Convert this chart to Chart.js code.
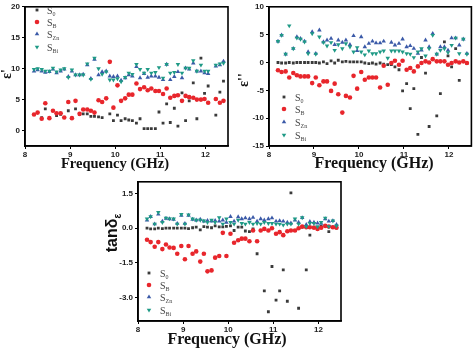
<!DOCTYPE html>
<html>
<head>
<meta charset="utf-8">
<script src="https://cdn.jsdelivr.net/npm/chart.js@4.4.1/dist/chart.umd.min.js"></script>
<style>
html,body{margin:0;padding:0;background:#fff;}
#wrap{position:relative;width:474px;height:351px;overflow:hidden;}
canvas{position:absolute;}
</style>
</head>
<body>
<div id="wrap">
<canvas id="c1" style="left:0px;top:0px;width:237px;height:175px"></canvas>
<canvas id="c2" style="left:237px;top:0px;width:237px;height:175px"></canvas>
<canvas id="c3" style="left:90px;top:175px;width:260px;height:176px"></canvas>
</div>
<script>
// ---------- DATA ----------
const freq = [8.2, 8.28, 8.37, 8.45, 8.54, 8.62, 8.7, 8.79, 8.87, 8.96, 9.04, 9.12, 9.21, 9.29, 9.38, 9.46, 9.54, 9.63, 9.71, 9.8, 9.88, 9.96, 10.05, 10.13, 10.22, 10.3, 10.38, 10.47, 10.55, 10.64, 10.72, 10.8, 10.89, 10.97, 11.06, 11.14, 11.22, 11.31, 11.39, 11.48, 11.56, 11.64, 11.73, 11.81, 11.9, 11.98, 12.06, 12.15, 12.23, 12.32, 12.4];
const seriesNames = ["0", "B", "Zn", "Bi"];
const xTicks = [8, 9, 10, 11, 12];

// ε' (real permittivity)
const epsRe_S0  = [null, null, 2.1, 3.5, null, null, 2.4, 2.6, null, 3.2, null, 3.5, 2.6, 2.7, 2.7, 2.3, 2.3, 2.2, 2.1, null, 2.7, 1.6, 2.5, 1.6, 1.9, 1.7, 1.6, 1.2, 1.9, 0.3, 0.3, 0.3, 0.3, 3.0, 1.2, 4.3, 1.3, 3.6, 0.7, 6.1, 1.6, 4.8, 7.7, 1.9, 11.7, 6.0, 7.2, null, 2.5, 6.2, 8.0];
const epsRe_SB  = [2.6, 2.9, 1.9, 4.4, 2.0, 3.2, 2.8, 2.8, 2.1, 4.6, 2.0, 4.8, 2.7, 3.4, 3.4, 3.2, 2.9, 4.9, 4.6, 5.2, 11.1, 3.7, 7.3, 4.8, 5.2, 5.8, 5.8, 7.6, 6.7, 7.0, 6.5, 6.8, 6.4, 6.4, 5.9, 6.8, 5.3, 5.6, 5.7, 4.8, 5.6, 5.4, 5.3, 5.0, 5.0, 5.1, 4.5, null, 5.1, 4.5, 4.8];
const epsRe_SZn = [9.6, 9.8, 9.6, 9.4, 9.5, 9.9, 9.3, 9.6, 9.9, 8.7, 9.6, 9.0, 9.0, 9.1, 10.6, 8.4, 11.5, 9.0, 9.5, 9.6, 8.8, 8.7, 8.8, 8.1, 8.5, 9.0, 8.8, 10.3, 8.5, 9.2, 8.6, 8.8, 8.8, 8.6, 8.2, 10.7, 8.2, 8.7, 9.5, 8.5, 10.1, 9.9, 10.9, 9.6, 9.6, 9.3, 9.2, null, 10.4, 10.6, 11.2];
const epsRe_SBi = [9.9, 10.0, 9.9, 9.6, 9.6, 10.1, 9.5, 9.8, 10.0, 8.6, 9.8, 9.0, 9.0, 9.0, 10.8, 8.3, 11.7, 10.0, 9.1, 9.5, 8.2, 8.2, 8.4, 7.9, 8.6, 9.3, 9.1, 10.7, 9.9, 9.3, 9.9, 9.3, 9.4, 10.2, 8.5, 10.7, 9.3, 9.4, 10.7, 9.3, 10.1, 10.1, 11.3, 9.6, 10.6, 9.6, 9.6, null, 10.6, 10.8, 10.9];
const epsReTicks = [0, 5, 10, 15, 20];

// ε'' (imaginary permittivity)
const epsIm_S0  = [0, -0.1, -0.1, 0, -0.1, 0, 0, 0, 0, 0, 0, -0.1, 0.1, -0.2, 0.3, -0.1, 0.4, 0.1, 0.2, 0.1, 0.1, 0.1, 0.1, -0.1, -0.2, -0.1, -0.3, -0.1, -0.3, -0.4, -0.4, -0.8, -1.3, -5.1, -3.8, -8.3, -4.7, -12.9, 0.9, -1.9, -11.5, null, -9.6, -5.6, 3.7, 1.2, -0.8, 2.5, -3.2, null, -0.2];
const epsIm_SB  = [-1.4, -1.7, -1.6, -2.7, -1.9, -2.3, -2.5, -2.5, -2.5, -3.7, -2.7, -4.1, -3.4, -3.4, -5.1, -3.8, -5.7, -9.0, -6.0, -6.3, -2.4, -4.7, -1.7, -3.1, -2.7, -2.7, -2.7, -4.5, -0.6, -4.0, -0.1, 0.3, -0.4, 0.3, -1.3, -1.0, -1.6, -0.7, -0.1, 0.2, 0, 0.6, 0.2, 0.2, 0.2, -0.4, -0.1, 0.2, 0, 0.2, -0.1];
const epsIm_SZn = [3.8, 4.9, 1.5, null, 2.5, 4.6, 4.3, 3.8, 1.9, 5.5, 1.6, 5.8, 3.7, 4.0, 4.3, 3.2, 4.0, 3.6, 4.0, 3.2, 4.8, 2.1, 4.6, 2.8, 3.4, 3.8, 3.5, 3.5, 3.8, null, 3.6, 3.1, 3.4, 4.2, 2.8, 3.0, 2.5, 1.6, 2.2, 4.0, 2.8, 5.2, 1.5, 2.8, 2.8, 2.2, 4.4, 4.4, 3.1, 4.2, 1.6];
const epsIm_SBi = [3.8, 4.9, 1.5, 6.6, 2.5, 4.4, 4.2, 3.7, 1.6, 5.2, 1.5, 4.6, 3.6, 3.0, 3.6, 2.2, 3.2, 2.5, 3.4, 2.8, 1.9, 2.7, 1.9, 1.4, 2.1, 1.6, 1.6, 1.9, 2.1, 0.8, 2.1, 2.1, 2.1, 1.9, 1.6, 1.5, 0.9, 1.9, 2.5, 1.2, 2.5, 4.9, 1.5, 2.2, 2.5, 1.8, 3.1, 4.4, 1.6, 4.2, 1.5];
const epsImTicks = [-15, -10, -5, 0, 5, 10];

// tan δε (dielectric loss tangent)
const tan_S0  = [0, -0.03, -0.03, 0, -0.02, 0, 0, 0, 0, 0, 0, -0.02, 0.02, 0.05, -0.07, 0.07, 0.05, 0.02, 0.1, 0.06, 0.06, 0.08, 0.1, -0.1, 0.05, 0.05, -0.12, -0.15, -0.03, -1.1, null, -2.7, -3.6, -1.65, -3.1, -2.7, -1.8, -3.15, 1.52, -0.1, -3.45, 0.05, -1.8, -0.3, 0.05, 0.0, 0.08, 0.1, -0.15, 0.05, 0.02];
const tan_SB  = [-0.5, -0.6, -0.8, -0.6, -0.9, -0.7, -0.83, -0.85, -1.1, -0.77, -1.34, -0.77, -1.1, -1.0, -1.44, -1.1, -1.86, -1.82, -1.27, -1.2, -0.2, -1.2, -0.24, -0.63, -0.52, -0.45, -0.45, -0.56, -0.1, -0.56, -0.1, -0.03, -0.1, 0, -0.24, -0.17, -0.3, -0.13, -0.1, -0.1, 0, 0.07, 0.04, 0.04, 0.02, -0.03, 0.02, 0.1, 0.07, 0.04, 0.02];
const tan_SZn = [0.35, 0.5, 0.18, 0.6, 0.3, 0.42, 0.4, 0.38, 0.2, 0.55, 0.2, 0.55, 0.38, 0.35, 0.38, 0.3, 0.33, 0.3, 0.33, 0.3, 0.35, 0.25, 0.5, 0.3, 0.49, 0.4, 0.44, 0.4, 0.46, 0.3, 0.4, 0.35, 0.4, 0.44, 0.3, 0.32, 0.3, 0.25, 0.22, 0.35, 0.25, 0.45, 0.15, 0.28, 0.25, 0.22, 0.2, 0.4, 0.3, 0.32, 0.15];
const tan_SBi = [0.4, 0.5, 0.18, 0.68, 0.25, 0.44, 0.41, 0.4, 0.18, 0.6, 0.18, 0.58, 0.4, 0.35, 0.35, 0.32, 0.25, 0.35, 0.25, 0.46, 0.18, 0.4, 0.25, 0.18, 0.35, 0.21, 0.18, 0.25, 0.18, 0.21, 0.18, 0.25, 0.21, 0.21, 0.18, 0.18, 0.14, 0.18, 0.18, 0.4, 0.18, 0.46, 0.07, 0.21, 0.21, 0.07, 0.25, 0.44, 0.07, 0.32, 0.1];
const tanTicks = [-3.0, -1.5, 0.0, 1.5];

// ---------- STYLE ----------
const styles = [
  {color: '#3a3a3a', pointStyle: 'rect', rotation: 0, radius: 2},
  {color: '#e8262c', pointStyle: 'circle', rotation: 0, radius: 2.3},
  {color: '#3b5aa8', pointStyle: 'triangle', rotation: 0, radius: 2.6},
  {color: '#1f9a86', pointStyle: 'triangle', rotation: 180, radius: 2.6}
];
const TICK_FONT = {family: '"Liberation Sans", Arial, sans-serif', size: 8, weight: 'bold'};

function pts(arr) {
  const out = [];
  freq.forEach((f, i) => { if (arr[i] !== null && arr[i] !== undefined) out.push({x: f, y: arr[i]}); });
  return out;
}

function makeChart(id, cfg) {
  const canvas = document.getElementById(id);
  const W = parseInt(canvas.style.width), H = parseInt(canvas.style.height);
  const datasets = cfg.series.map((arr, k) => ({
    label: 'S' + seriesNames[k],
    data: pts(arr),
    showLine: false,
    backgroundColor: styles[k].color,
    borderColor: styles[k].color,
    borderWidth: 0,
    pointStyle: styles[k].pointStyle,
    rotation: styles[k].rotation,
    pointRadius: styles[k].radius,
    pointHoverRadius: styles[k].radius
  }));
  datasets.reverse();

  const deco = {
    id: 'deco' + id,
    afterDatasetsDraw(chart) {
      const ctx = chart.ctx, a = chart.chartArea;
      ctx.save();
      ctx.strokeStyle = '#000';
      ctx.lineWidth = 1.6;
      ctx.strokeRect(a.left, a.top, a.right - a.left, a.bottom - a.top);
      ctx.restore();
    },
    afterDraw(chart) {
      const ctx = chart.ctx;
      ctx.save();
      // x title
      ctx.fillStyle = '#111';
      ctx.font = 'bold ' + cfg.xTitleSize + 'px "Liberation Serif", "Times New Roman", serif';
      ctx.textAlign = 'center';
      ctx.textBaseline = 'alphabetic';
      ctx.fillText('Frequency (GHz)', cfg.xTitle[0], cfg.xTitle[1]);
      // y title
      ctx.save();
      ctx.translate(cfg.yTitle[0], cfg.yTitle[1]);
      ctx.rotate(-Math.PI / 2);
      ctx.textBaseline = 'middle';
      if (cfg.yTitleSub) {
        const f1 = 'bold ' + cfg.yTitleSize + 'px "Liberation Sans", Arial, sans-serif';
        const f2 = 'bold ' + Math.round(cfg.yTitleSize * 0.62) + 'px "Liberation Sans", Arial, sans-serif';
        ctx.font = f1;
        const w1 = ctx.measureText(cfg.yTitleText).width;
        ctx.font = f2;
        const w2 = ctx.measureText(cfg.yTitleSub).width;
        const x0 = -(w1 + w2) / 2;
        ctx.textAlign = 'left';
        ctx.font = f1;
        ctx.fillText(cfg.yTitleText, x0, 0);
        ctx.font = f2;
        ctx.fillText(cfg.yTitleSub, x0 + w1, cfg.yTitleSize * 0.3);
      } else {
        ctx.font = 'bold ' + cfg.yTitleSize + 'px "Liberation Serif", "Times New Roman", serif';
        ctx.textAlign = 'center';
        ctx.fillText(cfg.yTitleText, 0, 0);
      }
      ctx.restore();
      // legend
      const L = cfg.legend;
      for (let k = 0; k < 4; k++) {
        const y = L.y[k];
        const st = styles[k];
        ctx.fillStyle = st.color;
        ctx.strokeStyle = st.color;
        ctx.lineWidth = 0;
        Chart.helpers.drawPoint(ctx, {pointStyle: st.pointStyle, rotation: st.rotation, radius: st.radius, borderWidth: 0}, L.mx, y);
        ctx.fillStyle = '#444';
        ctx.textAlign = 'left';
        ctx.textBaseline = 'alphabetic';
        ctx.font = '10px "Liberation Serif", "Times New Roman", serif';
        ctx.fillText('S', L.tx, y + 3.5);
        const ws = ctx.measureText('S').width;
        ctx.font = '6px "Liberation Serif", "Times New Roman", serif';
        ctx.fillText(seriesNames[k], L.tx + ws, y + 5.5);
      }
      ctx.restore();
    }
  };

  return new Chart(canvas, {
    type: 'scatter',
    data: {datasets},
    options: {
      responsive: false,
      animation: false,
      devicePixelRatio: 1,
      events: [],
      layout: {padding: {top: cfg.area.top, right: W - cfg.area.right, left: 0, bottom: 0}},
      plugins: {legend: {display: false}, tooltip: {enabled: false}},
      scales: {
        x: {
          type: 'linear', min: 8, max: 12.5,
          afterFit(s) { s.height = H - cfg.area.bottom; },
          afterBuildTicks(s) { s.ticks = xTicks.map(v => ({value: v})); },
          ticks: {font: TICK_FONT, color: '#222', padding: 1, maxRotation: 0, callback: v => String(v)},
          grid: {display: true, drawOnChartArea: false, drawTicks: true, tickLength: 3, color: '#000', tickWidth: 1},
          border: {display: true, color: '#000', width: 1.6}
        },
        y: {
          type: 'linear', min: cfg.yMin, max: cfg.yMax,
          afterFit(s) { s.width = cfg.area.left; },
          afterBuildTicks(s) { s.ticks = cfg.yTicks.map(v => ({value: v})); },
          ticks: {font: TICK_FONT, color: '#222', padding: 2, callback: cfg.yFmt},
          grid: {display: true, drawOnChartArea: false, drawTicks: true, tickLength: 3, color: '#000', tickWidth: 1},
          border: {display: true, color: '#000', width: 1.6}
        }
      }
    },
    plugins: [deco]
  });
}

makeChart('c1', {
  series: [epsRe_S0, epsRe_SB, epsRe_SZn, epsRe_SBi],
  yMin: -2.5, yMax: 20, yTicks: epsReTicks, yFmt: v => String(v),
  area: {left: 25, top: 5, right: 228, bottom: 146},
  xTitle: [115, 168], xTitleSize: 14.5,
  yTitle: [7, 74], yTitleText: "\u03B5'", yTitleSize: 14,
  legend: {mx: 37, tx: 47, y: [10, 22, 34, 47]}
});
makeChart('c2', {
  series: [epsIm_S0, epsIm_SB, epsIm_SZn, epsIm_SBi],
  yMin: -15, yMax: 10, yTicks: epsImTicks, yFmt: v => String(v),
  area: {left: 32, top: 5, right: 235, bottom: 146},
  xTitle: [137, 168], xTitleSize: 16,
  yTitle: [7, 80], yTitleText: "\u03B5''", yTitleSize: 14,
  legend: {mx: 47, tx: 58, y: [97, 109, 122, 135]}
});
makeChart('c3', {
  series: [tan_S0, tan_SB, tan_SZn, tan_SBi],
  yMin: -4, yMax: 2, yTicks: tanTicks, yFmt: v => v.toFixed(1),
  area: {left: 48, top: 4, right: 251, bottom: 146},
  xTitle: [137, 169], xTitleSize: 16,
  yTitle: [23, 58], yTitleText: "tan\u03B4", yTitleSub: "\u03B5", yTitleSize: 16,
  legend: {mx: 59, tx: 70, y: [98, 110, 122, 135]}
});
</script>
</body>
</html>
